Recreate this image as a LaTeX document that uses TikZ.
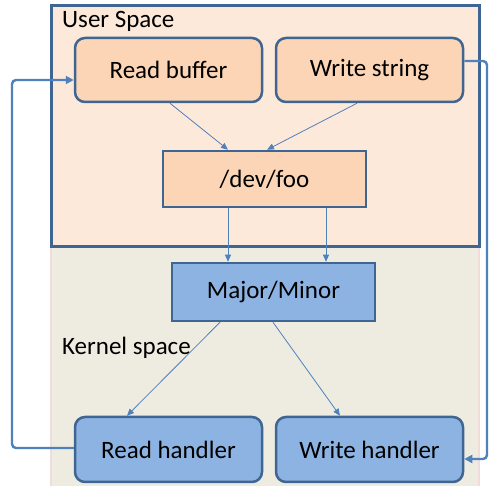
\documentclass[tikz,border=0pt]{standalone}
\usepackage{fontspec}
\setmainfont{Carlito}
\usetikzlibrary{arrows.meta}
\definecolor{userbg}{HTML}{FDE9D9}
\definecolor{kernbg}{HTML}{EEECE1}
\definecolor{kernedge}{HTML}{F2DCDB}
\definecolor{edge}{HTML}{3F6592}
\definecolor{peach}{HTML}{FBD5B5}
\definecolor{bluebox}{HTML}{8DB3E2}
\definecolor{arrowc}{HTML}{4F81BD}
\tikzset{
  box/.style={draw=edge, line width=2.5pt, minimum width=187pt, minimum height=64pt, inner sep=0pt, font=\fontsize{25}{29}\selectfont},
  ubox/.style={box, fill=peach, rounded corners=10pt},
  kbox/.style={box, fill=bluebox, rounded corners=10pt},
  sqbox/.style={box, minimum width=203pt},
  thin/.style={draw=arrowc, line width=0.8pt, -{Triangle[length=7pt,width=6pt]}},
  loopc/.style={draw=arrowc, line width=2.4pt, rounded corners=4pt, -{Triangle[length=8pt,width=8pt]}},
  lbl/.style={anchor=base west, inner sep=0pt, font=\fontsize{25}{29}\selectfont}
}
\begin{document}
\begin{tikzpicture}[x=1pt,y=-1pt]
\useasboundingbox (0,0) rectangle (491,486);
\fill[white] (0,0) rectangle (491,486);
% kernel region
\draw[fill=kernbg, draw=kernedge, line width=1.5pt] (51,230) rectangle (479,495);
% user region
\draw[fill=userbg, draw=edge, line width=3pt] (51,6) rectangle (479,247);
\node[lbl] (us) at (62,28) {User Space};
\node[lbl] (ks) at (62,355) {Kernel space};
% nodes
\node[ubox] (rb) at (168.5,70) {Read buffer};
\node[ubox] (ws) at (369.5,70) {Write string};
\node[sqbox, fill=peach, minimum height=56pt] (dev) at (264.5,179) {/dev/foo};
\node[sqbox, fill=bluebox, minimum height=58pt] (mm) at (273.5,292) {Major/Minor};
\node[kbox, minimum height=65pt] (rh) at (168.5,449.5) {Read handler};
\node[kbox, minimum height=65pt] (wh) at (369.5,449.5) {Write handler};
% thin arrows
\draw[thin] ([xshift=1.5pt]rb.south) -- ([xshift=-36.5pt]dev.north);
\draw[thin] ([xshift=-12.5pt]ws.south) -- ([xshift=2.5pt]dev.north);
\draw[thin] ([xshift=-36.5pt]dev.south) -- ([xshift=-45.5pt]mm.north);
\draw[thin] ([xshift=61.5pt]dev.south) -- ([xshift=52.5pt]mm.north);
\draw[thin] ([xshift=-53.5pt]mm.south) -- ([xshift=-41.5pt]rh.north);
\draw[thin] ([xshift=-0.5pt]mm.south) -- ([xshift=-29.5pt]wh.north);
% loop connectors
\coordinate (lc) at (12,448);
\coordinate (rc) at (487,61);
\draw[loopc] (rh.west |- lc) -- (lc) |- ([yshift=-10pt]rb.west);
\draw[loopc] (ws.east |- rc) -- (rc) |- ([yshift=-9.5pt]wh.east);
\end{tikzpicture}
\end{document}
